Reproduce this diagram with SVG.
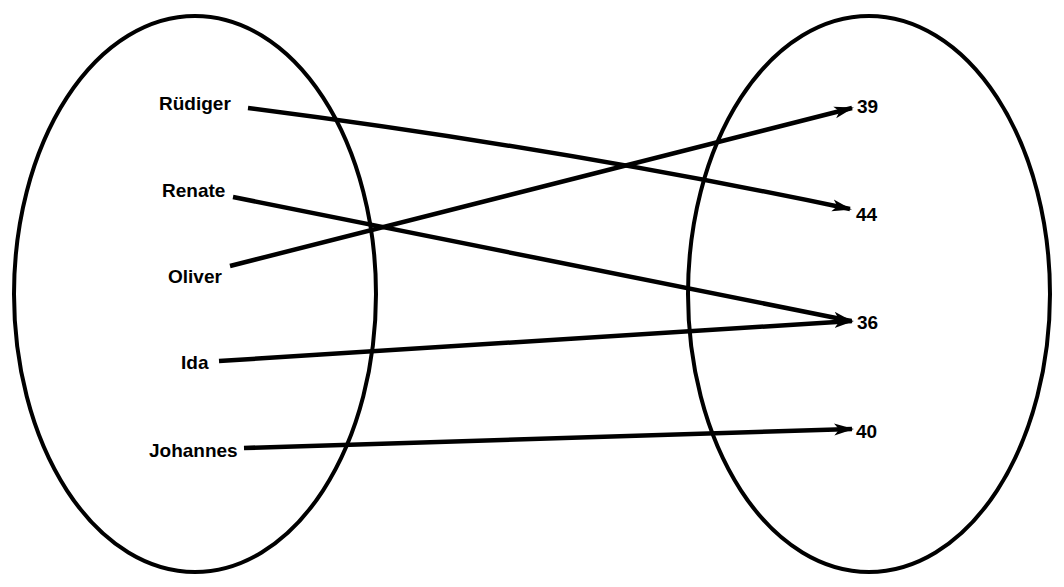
<svg xmlns="http://www.w3.org/2000/svg" width="1064" height="587" viewBox="0 0 1064 587">
<defs>
<style>
.set{fill:none;stroke:#000;stroke-width:4}
.lbl{font-family:"Liberation Sans",Arial,sans-serif;font-weight:bold;font-size:19px;fill:#000}
.c{fill:none;stroke:#000;stroke-width:4.5;marker-end:url(#ah)}
</style>
<marker id="ah" viewBox="0 0 20 12" refX="18" refY="6" markerWidth="4.4" markerHeight="2.9" orient="auto" markerUnits="strokeWidth">
<path d="M0,0 L20,6 L0,12 L5,6 Z" fill="#000"/>
</marker>
</defs>
<rect width="1064" height="587" fill="#fff"/>
<g id="setA"><ellipse class="set" cx="195" cy="294" rx="181" ry="278"/></g>
<g id="setB"><ellipse class="set" cx="869" cy="294" rx="181" ry="278"/></g>
<g id="connectors">
<path class="c" d="M248,108 Q560,148 850,209"/>
<path class="c" d="M233,197 L851,321"/>
<path class="c" d="M230,266 L852,108"/>
<path class="c" d="M219,361 L852,321"/>
<path class="c" d="M244,448 L852,429"/>
</g>
<g id="n-ruediger"><text class="lbl" x="159" y="110">Rüdiger</text></g>
<g id="n-renate"><text class="lbl" x="162" y="197">Renate</text></g>
<g id="n-oliver"><text class="lbl" x="168" y="283">Oliver</text></g>
<g id="n-ida"><text class="lbl" x="181" y="369">Ida</text></g>
<g id="n-johannes"><text class="lbl" x="149" y="457">Johannes</text></g>
<g id="n-39"><text class="lbl" x="857" y="113">39</text></g>
<g id="n-44"><text class="lbl" x="856" y="221">44</text></g>
<g id="n-36"><text class="lbl" x="857" y="329">36</text></g>
<g id="n-40"><text class="lbl" x="856" y="438">40</text></g>
</svg>
